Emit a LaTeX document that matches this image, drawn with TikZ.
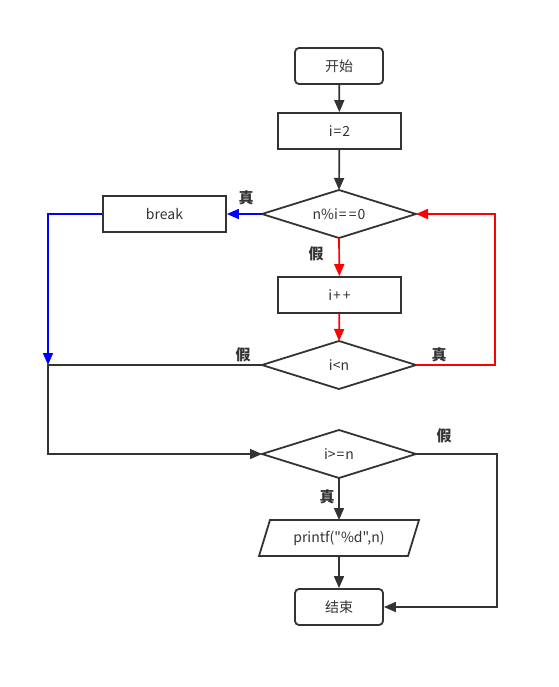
\documentclass[tikz,border=0pt]{standalone}
\usepackage{fontspec}
\setmainfont{Noto Sans CJK SC}
\newfontfamily\cjk{Noto Sans CJK SC}
\usetikzlibrary{arrows.meta,shapes.geometric,calc}
\definecolor{ink}{HTML}{333333}
\definecolor{myred}{HTML}{FF0000}
\definecolor{myblue}{HTML}{0000FF}
\tikzset{
  txt/.style={text=ink,font=\cjk\fontsize{14}{16}\selectfont,inner sep=0pt},
  base/.style={txt,draw=ink,line width=1.8pt},
  term/.style={base,rounded corners=4pt,minimum width=88pt,minimum height=36pt},
  proc/.style={base,minimum width=123pt,minimum height=36pt},
  conn/.style={line width=1.7pt,-{Triangle[length=12pt,width=10pt]}},
  lbl/.style={text=ink,font=\cjk\bfseries\fontsize{15}{17}\selectfont}
}
\begin{document}
\begin{tikzpicture}[x=1pt,y=-1pt]
\useasboundingbox (0,0) rectangle (558,687);
\node[term] (start) at (339,66) {开始};
\node[proc] (init) at (339.5,131) {i\kern1pt=\kern1pt2};
\path[base] (262,214) coordinate (d1w) -- (339,190) coordinate (d1n) -- (416,214) coordinate (d1e) -- (339,238) coordinate (d1s) -- cycle;
\node[txt] (d1t) at (339,214) {n\%i\kern1pt=\kern2pt=\kern1pt0};
\node[proc] (brk) at (164.5,214) {break};
\node[proc] (inc) at (339.5,295) {i\kern1pt+\kern2pt+};
\path[base] (262,365) coordinate (d2w) -- (339,341) coordinate (d2n) -- (416,365) coordinate (d2e) -- (339,389) coordinate (d2s) -- cycle;
\node[txt] (d2t) at (339,365) {i<n};
\path[base] (262,454) coordinate (d3w) -- (339,430) coordinate (d3n) -- (416,454) coordinate (d3e) -- (339,478) coordinate (d3s) -- cycle;
\node[txt] (d3t) at (339,454) {i>\kern1pt=\kern1pt n};
\path[base] (270,520) -- (419,520) -- (408,556) -- (259,556) -- cycle;
\coordinate (prn) at (339,520);
\coordinate (prs) at (339,556);
\node[txt] (prt) at (339,538) {printf("\%d",n)};
\node[term] (end) at (339,607) {结束};
\coordinate (c1) at (495,365);
\coordinate (c2) at (495,214);
\coordinate (c3) at (48,214);
\coordinate (c4) at (48,365);
\coordinate (c5) at (48,454);
\coordinate (c6) at (497,454);
\coordinate (c7) at (497,607);
% connectors
\draw[conn,ink] (start) -- (init);
\draw[conn,ink] (init) -- (d1n);
\draw[conn,myblue] (d1w) -- (brk);
\draw[conn,myred] (d1s) -- (inc);
\draw[conn,myred] (inc) -- (d2n);
\draw[conn,myred] (d2e) -- (c1) -- (c2) -- (d1e);
\draw[conn,myblue] (brk) -- (c3) -- (c4);
\draw[conn,ink] (d2w) -- (c4) -- (c5) -- (d3w);
\draw[conn,ink] (d3s) -- (prn);
\draw[conn,ink] (d3e) -- (c6) -- (c7) -- (end);
\draw[conn,ink] (prs) -- (end);
% labels
\node[lbl] (l1) at (246,198) {真};
\node[lbl] (l2) at (316,254) {假};
\node[lbl] (l3) at (439,355) {真};
\node[lbl] (l4) at (243,355) {假};
\node[lbl] (l5) at (327,497) {真};
\node[lbl] (l6) at (444,436) {假};
\end{tikzpicture}
\end{document}
